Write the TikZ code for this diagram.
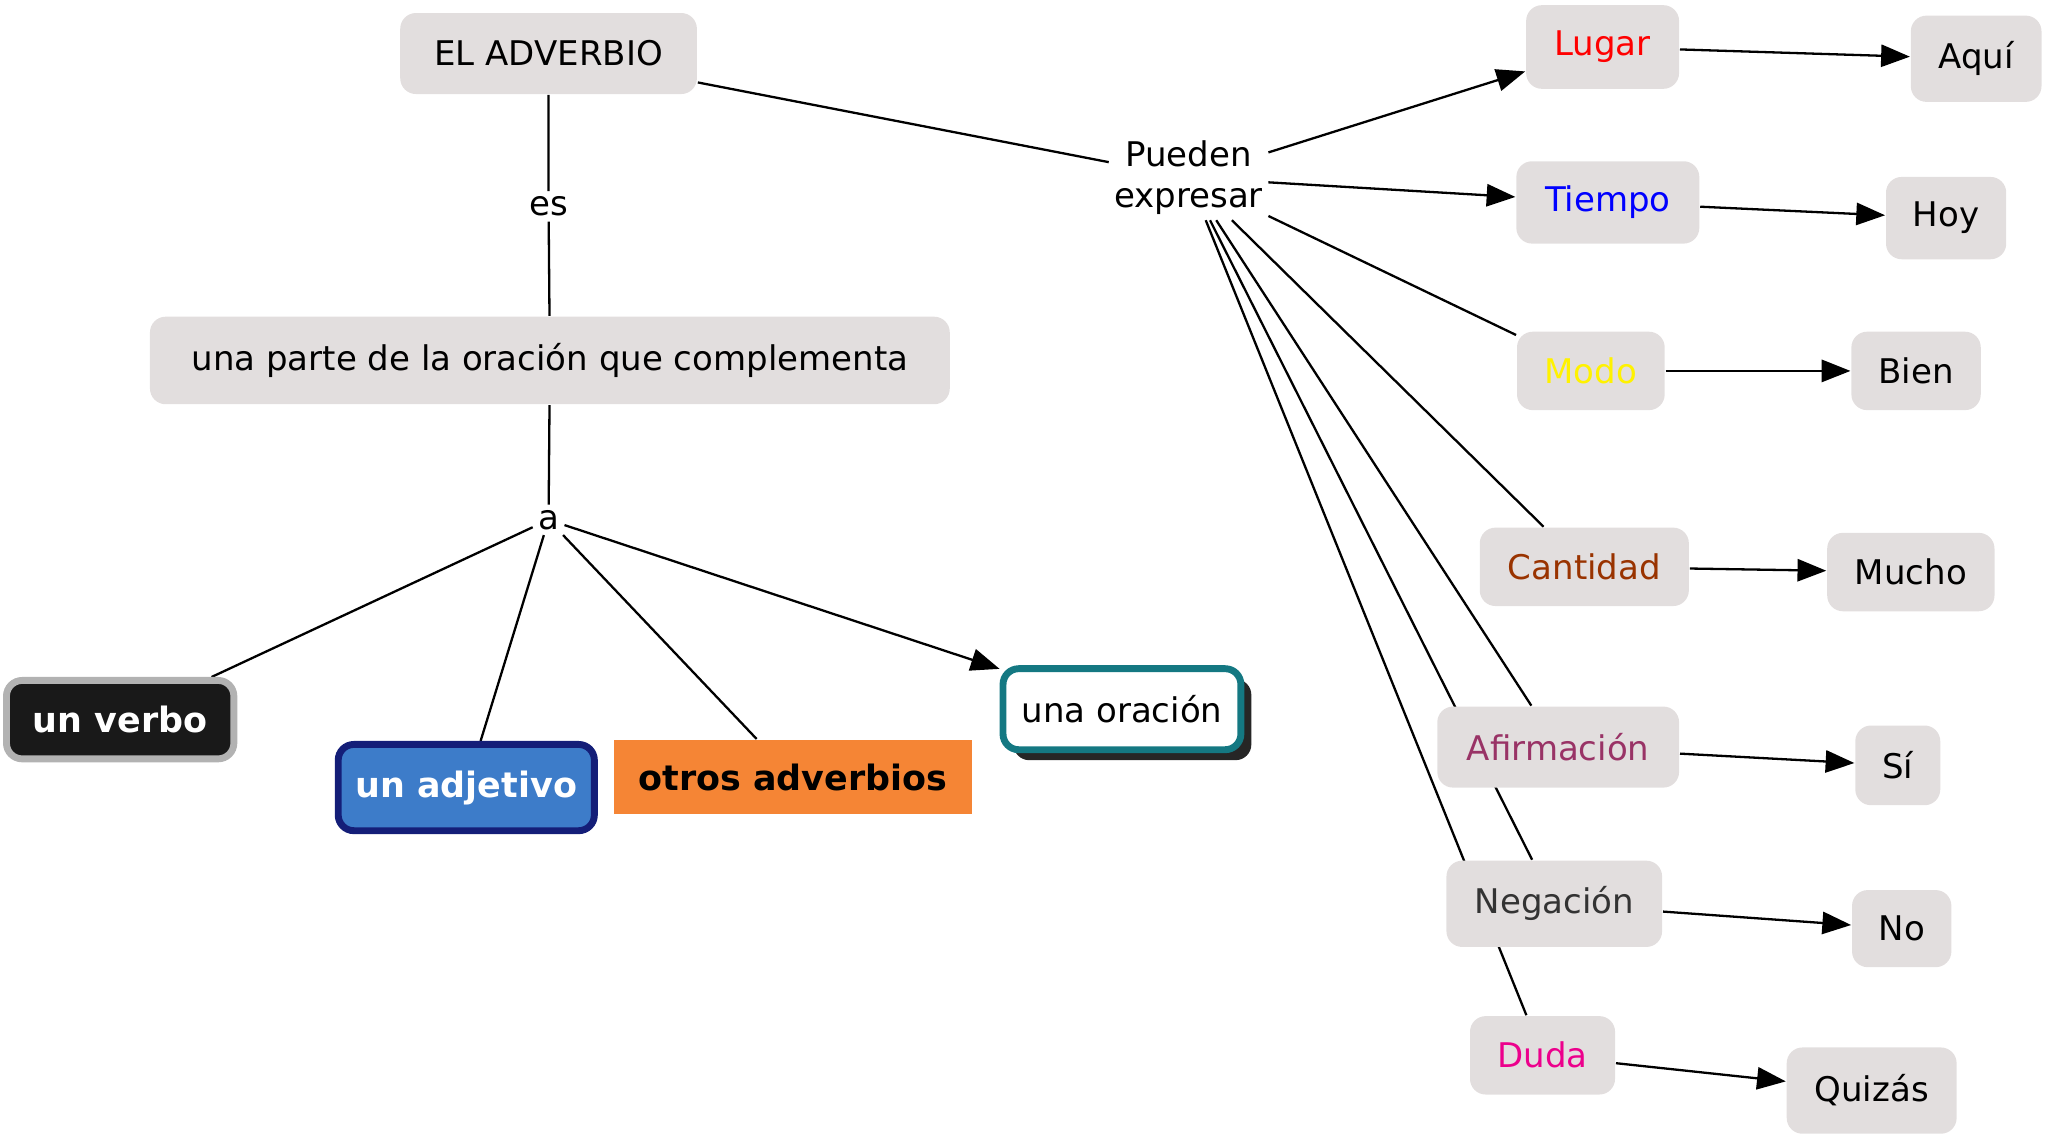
\documentclass[tikz,border=0pt]{standalone}
\usepackage{fontspec}
\setmainfont{DejaVu Sans}
\usetikzlibrary{arrows.meta,backgrounds,shadows}
\definecolor{boxg}{HTML}{E2DEDE}
\begin{document}
\begin{tikzpicture}[x=0.01cm,y=-0.01cm,
  every node/.style={font=\fontsize{7.4}{9}\selectfont},
  gb/.style={fill=boxg,rounded corners=1.2mm,inner sep=0pt,align=center},
  lbl/.style={fill=white,inner sep=1pt,align=center},
  ar/.style={-{Triangle[length=0.22cm,width=0.17cm]},line width=0.5pt},
  ln/.style={line width=0.5pt}]
\useasboundingbox (0,0) rectangle (1568,874);
\node[gb,minimum width=2.27cm,minimum height=0.62cm] (adv) at (420,41) {EL ADVERBIO};
\node[lbl] (es) at (420,158) {es};
\node[gb,minimum width=6.12cm,minimum height=0.67cm] (parte) at (421,276) {una parte de la oración que complementa};
\node[lbl] (a) at (420,398) {a};
\node[fill=black!90,draw=gray!60,line width=1.5pt,rounded corners=1.2mm,text=white,font=\fontsize{7.6}{9}\bfseries,minimum width=1.74cm,minimum height=0.6cm] (verbo) at (92,551) {un verbo};
\node[fill={rgb,255:red,61;green,124;blue,201},draw={rgb,255:red,20;green,30;blue,120},line width=1.5pt,rounded corners=1.2mm,text=white,font=\fontsize{7.6}{9}\bfseries,minimum width=1.96cm,minimum height=0.66cm] (adj) at (357,603) {un adjetivo};
\node[fill={rgb,255:red,245;green,133;blue,53},font=\fontsize{7.6}{9}\bfseries,minimum width=2.74cm,minimum height=0.57cm] (otros) at (607,595) {otros adverbios};
\node[fill=white,draw={rgb,255:red,20;green,120;blue,130},line width=1.5pt,rounded corners=1.2mm,minimum width=1.82cm,minimum height=0.62cm,
  drop shadow={shadow xshift=0.08cm,shadow yshift=-0.08cm,opacity=1,fill=black!85}] (orac) at (859,543) {una oración};
\node[lbl] (pe) at (910,136) {Pueden\\expresar};
\node[gb,text=red,minimum width=1.17cm,minimum height=0.64cm] (lugar) at (1227,36) {Lugar};
\node[gb,minimum width=1.0cm,minimum height=0.66cm] (aqui) at (1513,45) {Aquí};
\node[gb,text=blue,minimum width=1.4cm,minimum height=0.63cm] (tiempo) at (1231,155) {Tiempo};
\node[gb,minimum width=0.92cm,minimum height=0.63cm] (hoy) at (1490,167) {Hoy};
\node[gb,text=yellow,minimum width=1.13cm,minimum height=0.6cm] (modo) at (1218,284) {Modo};
\node[gb,minimum width=0.99cm,minimum height=0.6cm] (bien) at (1467,284) {Bien};
\node[gb,text={rgb,255:red,153;green,51;blue,0},minimum width=1.6cm,minimum height=0.6cm] (cant) at (1213,434) {Cantidad};
\node[gb,minimum width=1.28cm,minimum height=0.6cm] (mucho) at (1463,438) {Mucho};
\node[gb,text={rgb,255:red,153;green,51;blue,102},minimum width=1.85cm,minimum height=0.62cm] (afir) at (1193,572) {Afirmación};
\node[gb,minimum width=0.65cm,minimum height=0.61cm] (si) at (1453,586) {Sí};
\node[gb,text=black!80,minimum width=1.65cm,minimum height=0.66cm] (neg) at (1190,692) {Negación};
\node[gb,minimum width=0.76cm,minimum height=0.59cm] (no) at (1456,711) {No};
\node[gb,text=magenta,minimum width=1.11cm,minimum height=0.6cm] (duda) at (1181,808) {Duda};
\node[gb,minimum width=1.3cm,minimum height=0.66cm] (quiz) at (1433,835) {Quizás};
\begin{scope}[on background layer]
\draw[ln] (adv) -- (es) -- (parte) -- (a);
\draw[ln] (a) -- (verbo);
\draw[ln] (a) -- (adj);
\draw[ln] (a) -- (otros);
\draw[ar] (a) -- (orac);
\draw[ln] (adv) -- (pe);
\draw[ar] (pe) -- (lugar);
\draw[ar] (pe) -- (tiempo);
\draw[ln] (pe) -- (modo);
\draw[ln] (pe) -- (cant);
\draw[ln] (pe) -- (afir);
\draw[ln] (pe) -- (neg);
\draw[ln] (pe) -- (duda);
\draw[ar] (lugar) -- (aqui);
\draw[ar] (tiempo) -- (hoy);
\draw[ar] (modo) -- (bien);
\draw[ar] (cant) -- (mucho);
\draw[ar] (afir) -- (si);
\draw[ar] (neg) -- (no);
\draw[ar] (duda) -- (quiz);
\end{scope}
\end{tikzpicture}
\end{document}
